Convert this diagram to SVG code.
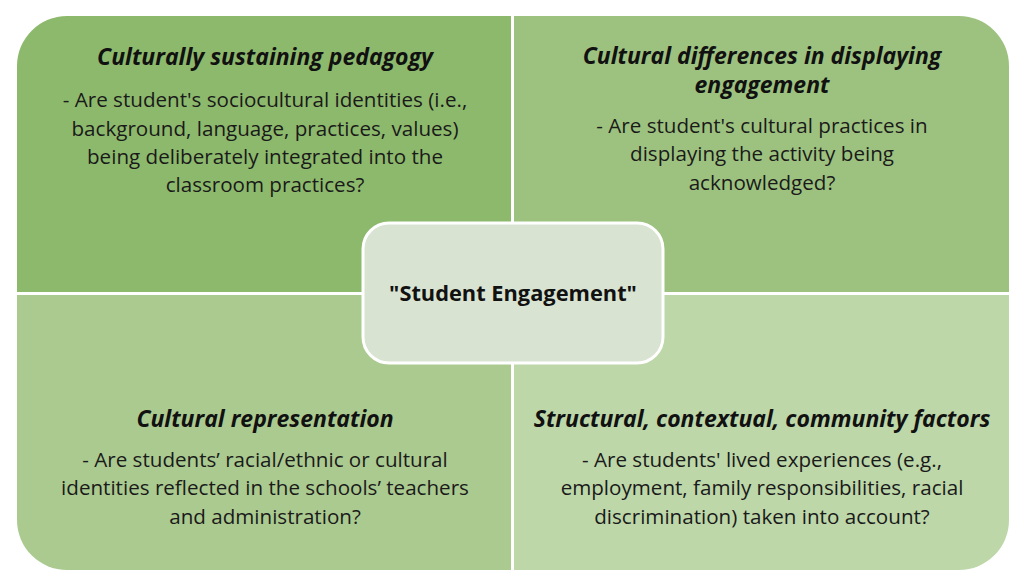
<svg xmlns="http://www.w3.org/2000/svg" width="1024" height="588" viewBox="0 0 1024 588">
<style>
.t{font-family:"Open Sans","Liberation Sans",sans-serif;font-size:23px;font-weight:bold;font-style:italic;fill:#111;text-anchor:middle}
.b{font-family:"Open Sans","Liberation Sans",sans-serif;font-size:20.6px;fill:#1a1a1a;text-anchor:middle}
.c{font-family:"Open Sans","Liberation Sans",sans-serif;font-size:21.8px;font-weight:bold;fill:#111;text-anchor:middle}
</style>
<rect width="1024" height="588" fill="#ffffff"/>
<g id="q-tl">
<path d="M17,292 V66 A50,50 0 0 1 67,16 H511 V292 Z" fill="#8db96c"/>
<text class="t" x="265" y="65">Culturally sustaining pedagogy</text>
<text class="b" x="265" y="107">- Are student's sociocultural identities (i.e.,</text>
<text class="b" x="265" y="136">background, language, practices, values)</text>
<text class="b" x="265" y="164">being deliberately integrated into the</text>
<text class="b" x="265" y="192">classroom practices?</text>
</g>
<g id="q-tr">
<path d="M514,16 H959 A50,50 0 0 1 1009,66 V292 H514 Z" fill="#9dc27f"/>
<text class="t" x="762" y="64">Cultural differences in displaying</text>
<text class="t" x="762" y="93">engagement</text>
<text class="b" x="762" y="133">- Are student's cultural practices in</text>
<text class="b" x="762" y="161">displaying the activity being</text>
<text class="b" x="762" y="190">acknowledged?</text>
</g>
<g id="q-bl">
<path d="M17,295 H511 V570 H67 A50,50 0 0 1 17,520 Z" fill="#abca90"/>
<text class="t" x="265" y="427">Cultural representation</text>
<text class="b" x="265" y="467">- Are students’ racial/ethnic or cultural</text>
<text class="b" x="265" y="495">identities reflected in the schools’ teachers</text>
<text class="b" x="265" y="524">and administration?</text>
</g>
<g id="q-br">
<path d="M514,295 H1009 V520 A50,50 0 0 1 959,570 H514 Z" fill="#bdd7a9"/>
<text class="t" x="762" y="427">Structural, contextual, community factors</text>
<text class="b" x="762" y="467">- Are students' lived experiences (e.g.,</text>
<text class="b" x="762" y="495">employment, family responsibilities, racial</text>
<text class="b" x="762" y="524">discrimination) taken into account?</text>
</g>
<g id="center">
<rect x="363" y="223" width="300" height="140" rx="26" fill="#d9e3d2" stroke="#ffffff" stroke-width="3"/>
<text class="c" x="513" y="301">"Student Engagement"</text>
</g>
<g id="connectors"></g>
</svg>
